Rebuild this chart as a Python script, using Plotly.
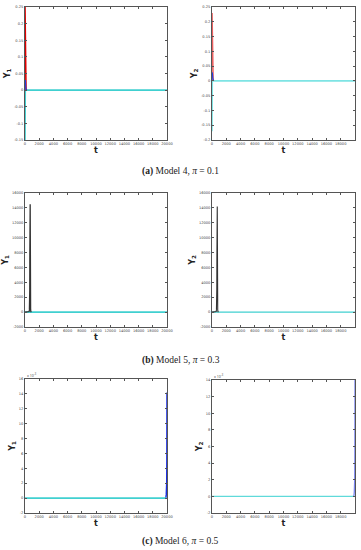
import plotly.graph_objects as go

# ---------------- data ----------------
# Panel (a) Model 4, pi = 0.1
a1_red_t = [0, 20, 40, 60, 80, 100, 140, 200]
a1_red_y = [0.25, 0.2, 0.14, 0.08, 0.04, 0.015, 0.004, 0.0]
a1_blue_t = [0, 30, 60, 90, 120, 160, 220]
a1_blue_y = [0.0, 0.02, 0.03, 0.02, 0.01, 0.003, 0.0]
a1_cyan_t = [0, 10, 20, 40, 20000]
a1_cyan_y = [-0.15, -0.1, -0.03, 0.0, 0.0]

a2_red_t = [0, 20, 40, 60, 80, 110, 150, 220]
a2_red_y = [0.23, 0.19, 0.13, 0.08, 0.04, 0.015, 0.004, 0.0]
a2_blue_t = [0, 30, 60, 90, 120, 160, 220]
a2_blue_y = [0.0, 0.02, 0.028, 0.02, 0.01, 0.003, 0.0]
a2_cyan_t = [0, 10, 20, 40, 20000]
a2_cyan_y = [-0.17, -0.11, -0.04, 0.0, 0.0]

# Panel (b) Model 5, pi = 0.3
b1_black_t = [0, 500, 580, 620, 650, 670, 680, 690, 700, 715, 730, 745, 760, 790, 830, 900]
b1_black_y = [0, 0, 80, 300, 900, 3000, 7700, 1500, 2500, 9000, 14500, 4000, 900, 300, 60, 0]
b1_cyan_t = [0, 20000]
b1_cyan_y = [0, 0]

b2_black_t = [0, 500, 580, 620, 650, 670, 685, 695, 705, 720, 735, 750, 765, 800, 840, 900]
b2_black_y = [0, 0, 80, 300, 900, 3000, 7400, 1500, 2500, 9000, 14200, 4000, 900, 300, 60, 0]
b2_cyan_t = [0, 20000]
b2_cyan_y = [0, 0]

# Panel (c) Model 6, pi = 0.5 (values in units of 1e-3)
c1_blue_t = [19800, 19850, 19900, 19930, 19960, 19980, 20000]
c1_blue_y = [0, 0.1, 0.5, 1.2, 2.0, 5.0, 14.2]
c1_cyan_t = [0, 19900]
c1_cyan_y = [0, 0]

c2_blue_t = [19800, 19850, 19900, 19930, 19960, 19980, 20000]
c2_blue_y = [0, 0.1, 0.5, 1.2, 2.0, 5.0, 14.0]
c2_cyan_t = [0, 19900]
c2_cyan_y = [0, 0]

x_ticks = list(range(0, 20001, 2000))

a1_yticks = [-0.15, -0.1, -0.05, 0, 0.05, 0.1, 0.15, 0.2, 0.25]
a2_yticks = [-0.2, -0.15, -0.1, -0.05, 0, 0.05, 0.1, 0.15, 0.2, 0.25]
b_yticks = list(range(-2000, 16001, 2000))
c1_yticks = list(range(-2, 17, 2))
c2_yticks = list(range(-2, 15, 2))

captions = ["<b>(a)</b> Model 4, <i>π</i> = 0.1",
            "<b>(b)</b> Model 5, <i>π</i> = 0.3",
            "<b>(c)</b> Model 6, <i>π</i> = 0.5"]

# ---------------- layout helpers ----------------
W, H = 361, 550
def px_x(a, b):
    return [a / W, b / W]
def px_y(top, bottom):
    return [1 - bottom / H, 1 - top / H]

panels = [
    (px_x(25, 167), px_y(7, 140), a1_yticks, [-0.15, 0.25], "Y<sub>1</sub>"),
    (px_x(212, 355), px_y(7, 140), a2_yticks, [-0.2, 0.25], "Y<sub>2</sub>"),
    (px_x(25, 167), px_y(193, 327), b_yticks, [-2000, 16000], "Y<sub>1</sub>"),
    (px_x(212, 355), px_y(193, 327), b_yticks, [-2000, 16000], "Y<sub>2</sub>"),
    (px_x(25, 167), px_y(379, 513), c1_yticks, [-2, 16], "Y<sub>1</sub>"),
    (px_x(212, 355), px_y(380, 513), c2_yticks, [-2, 14], "Y<sub>2</sub>"),
]

series = [
    [(a1_cyan_t, a1_cyan_y, "#40d0d0", 1.6), (a1_red_t, a1_red_y, "#e00000", 1.6), (a1_blue_t, a1_blue_y, "#2040e0", 1.0)],
    [(a2_cyan_t, a2_cyan_y, "#7ee4e4", 1.6), (a2_red_t, a2_red_y, "#ec6060", 1.6), (a2_blue_t, a2_blue_y, "#2040e0", 1.0)],
    [(b1_cyan_t, b1_cyan_y, "#40d0d0", 1.6), (b1_black_t, b1_black_y, "#333333", 1.3)],
    [(b2_cyan_t, b2_cyan_y, "#40d0d0", 1.2), (b2_black_t, b2_black_y, "#333333", 1.1)],
    [(c1_blue_t, c1_blue_y, "#1a2ee0", 1.5), (c1_cyan_t, c1_cyan_y, "#40d0d0", 1.8)],
    [(c2_blue_t, c2_blue_y, "#7c86f0", 1.3), (c2_cyan_t, c2_cyan_y, "#60dada", 1.4)],
]

fig = go.Figure()
annotations = []
for i, (xd, yd, yt, yr, ylab) in enumerate(panels):
    n = "" if i == 0 else str(i + 1)
    for (t, y, col, w) in series[i]:
        fig.add_trace(go.Scatter(x=t, y=y, mode="lines", line=dict(color=col, width=w),
                                 xaxis="x" + n, yaxis="y" + n, showlegend=False, cliponaxis=False))
    axis_common = dict(showline=True, linecolor="#555", linewidth=0.8, mirror="ticks",
                       ticks="inside", ticklen=2, tickcolor="#555", showgrid=False,
                       zeroline=False, automargin=False, tickangle=0,
                       tickfont=dict(size=3.6, color="#444", family="DejaVu Sans"))
    fig.layout["xaxis" + n] = dict(domain=xd, anchor="y" + n, range=[0, 20000],
                                   tickvals=x_ticks, ticktext=[str(v) for v in x_ticks],
                                   title=dict(text="<b>t</b>", font=dict(size=8, family="DejaVu Sans", color="#222"), standoff=0),
                                   **axis_common)
    fig.layout["yaxis" + n] = dict(domain=yd, anchor="x" + n, range=yr,
                                   tickvals=yt, ticktext=[str(v) for v in yt],
                                   title=dict(text="<b>" + ylab + "</b>", font=dict(size=8, family="DejaVu Sans", color="#222"), standoff=2),
                                   **axis_common)
    if i >= 4:
        annotations.append(dict(x=xd[0], y=yd[1], xref="paper", yref="paper", text="x 10<sup>-3</sup>",
                                showarrow=False, xanchor="left", yanchor="bottom",
                                font=dict(size=3.6, color="#444"), yshift=-1))

cap_y = [1 - 171 / H, 1 - 360 / H, 1 - 541 / H]
for c, y in zip(captions, cap_y):
    annotations.append(dict(x=0.5, y=y, xref="paper", yref="paper", text=c, showarrow=False,
                            xanchor="center", yanchor="middle",
                            font=dict(size=9.5, family="Liberation Serif", color="#222")))

fig.update_layout(width=W, height=H, margin=dict(l=0, r=0, t=0, b=0),
                  paper_bgcolor="white", plot_bgcolor="white", annotations=annotations)
fig.write_html("out.html", config={"displayModeBar": False},
               post_script="document.body.style.margin='0';document.body.style.overflow='hidden';")
